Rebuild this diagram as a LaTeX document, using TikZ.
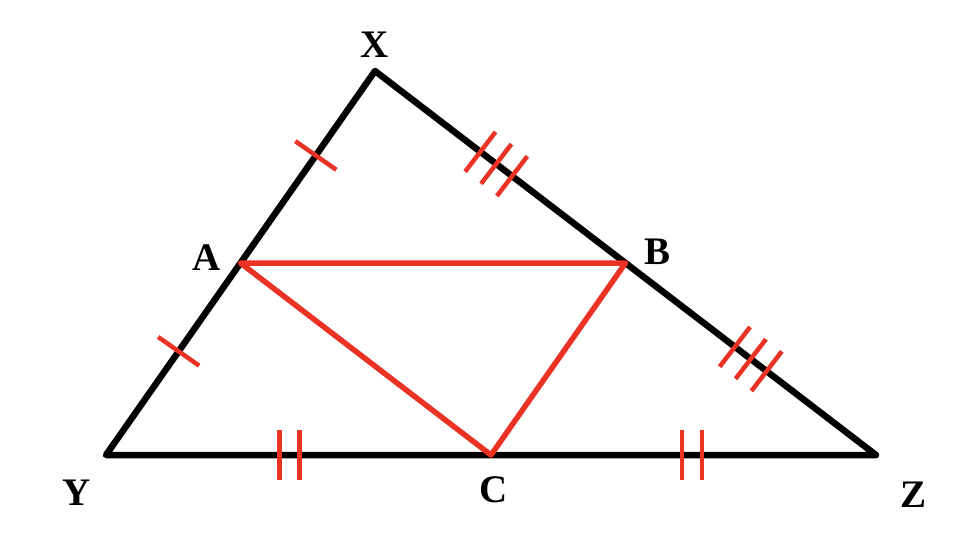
\documentclass[tikz,border=0pt]{standalone}
\usepackage{fontspec}
\setmainfont{Liberation Serif}
\usetikzlibrary{calc}
\definecolor{mred}{RGB}{234,51,36}
\begin{document}
\begin{tikzpicture}[x=1pt,y=-1pt,
  lbl/.style={font=\bfseries\fontsize{39}{39}\selectfont, inner sep=0pt},
  outer/.style={line width=6.5pt, black, line join=round, line cap=round},
  inner/.style={line width=5.5pt, mred, line join=round, line cap=round},
  tickmark/.style={line width=4.5pt, mred}]
\useasboundingbox (0,0) rectangle (966,550);
\coordinate (X) at (375,71);
\coordinate (Y) at (106,455);
\coordinate (Z) at (876,455);
\coordinate (A) at ($(X)!0.5!(Y)$);
\coordinate (B) at ($(X)!0.5!(Z)$);
\coordinate (C) at ($(Y)!0.5!(Z)$);
\draw[outer] (X) -- (Y) -- (Z) -- cycle;
\draw[inner] (A) -- (B) -- (C) -- cycle;
% single ticks on XY
\foreach \t in {0.22,0.73}{
  \path ($(X)!\t!(Y)$) coordinate (p);
  \draw[tickmark] ($(p)!25pt!90:(Y)$) -- ($(p)!25pt!-90:(Y)$);
}
% triple ticks on XZ
\foreach \t in {0.242,0.75}{
  \foreach \d in {-20,0,20}{
    \path ($(X)!\t!(Z)$) coordinate (q0);
    \path ($(q0)!\d pt!(Z)$) coordinate (q);
    \draw[tickmark] ($(q)!25pt!90:(Z)$) -- ($(q)!25pt!-90:(Z)$);
  }
}
% double ticks on YZ
\foreach \t in {0.238,0.761}{
  \foreach \d in {-10,10}{
    \path ($(Y)!\t!(Z)$) coordinate (r0);
    \path ($(r0)!\d pt!(Z)$) coordinate (r);
    \draw[tickmark] ($(r)!25pt!90:(Z)$) -- ($(r)!25pt!-90:(Z)$);
  }
}
\node[lbl] (lX) at (375,45) {X};
\node[lbl] (lY) at (77,493) {Y};
\node[lbl] (lZ) at (913,495) {Z};
\node[lbl] (lA) at (207,258) {A};
\node[lbl] (lB) at (657,252) {B};
\node[lbl] (lC) at (494,490) {C};
\end{tikzpicture}
\end{document}
